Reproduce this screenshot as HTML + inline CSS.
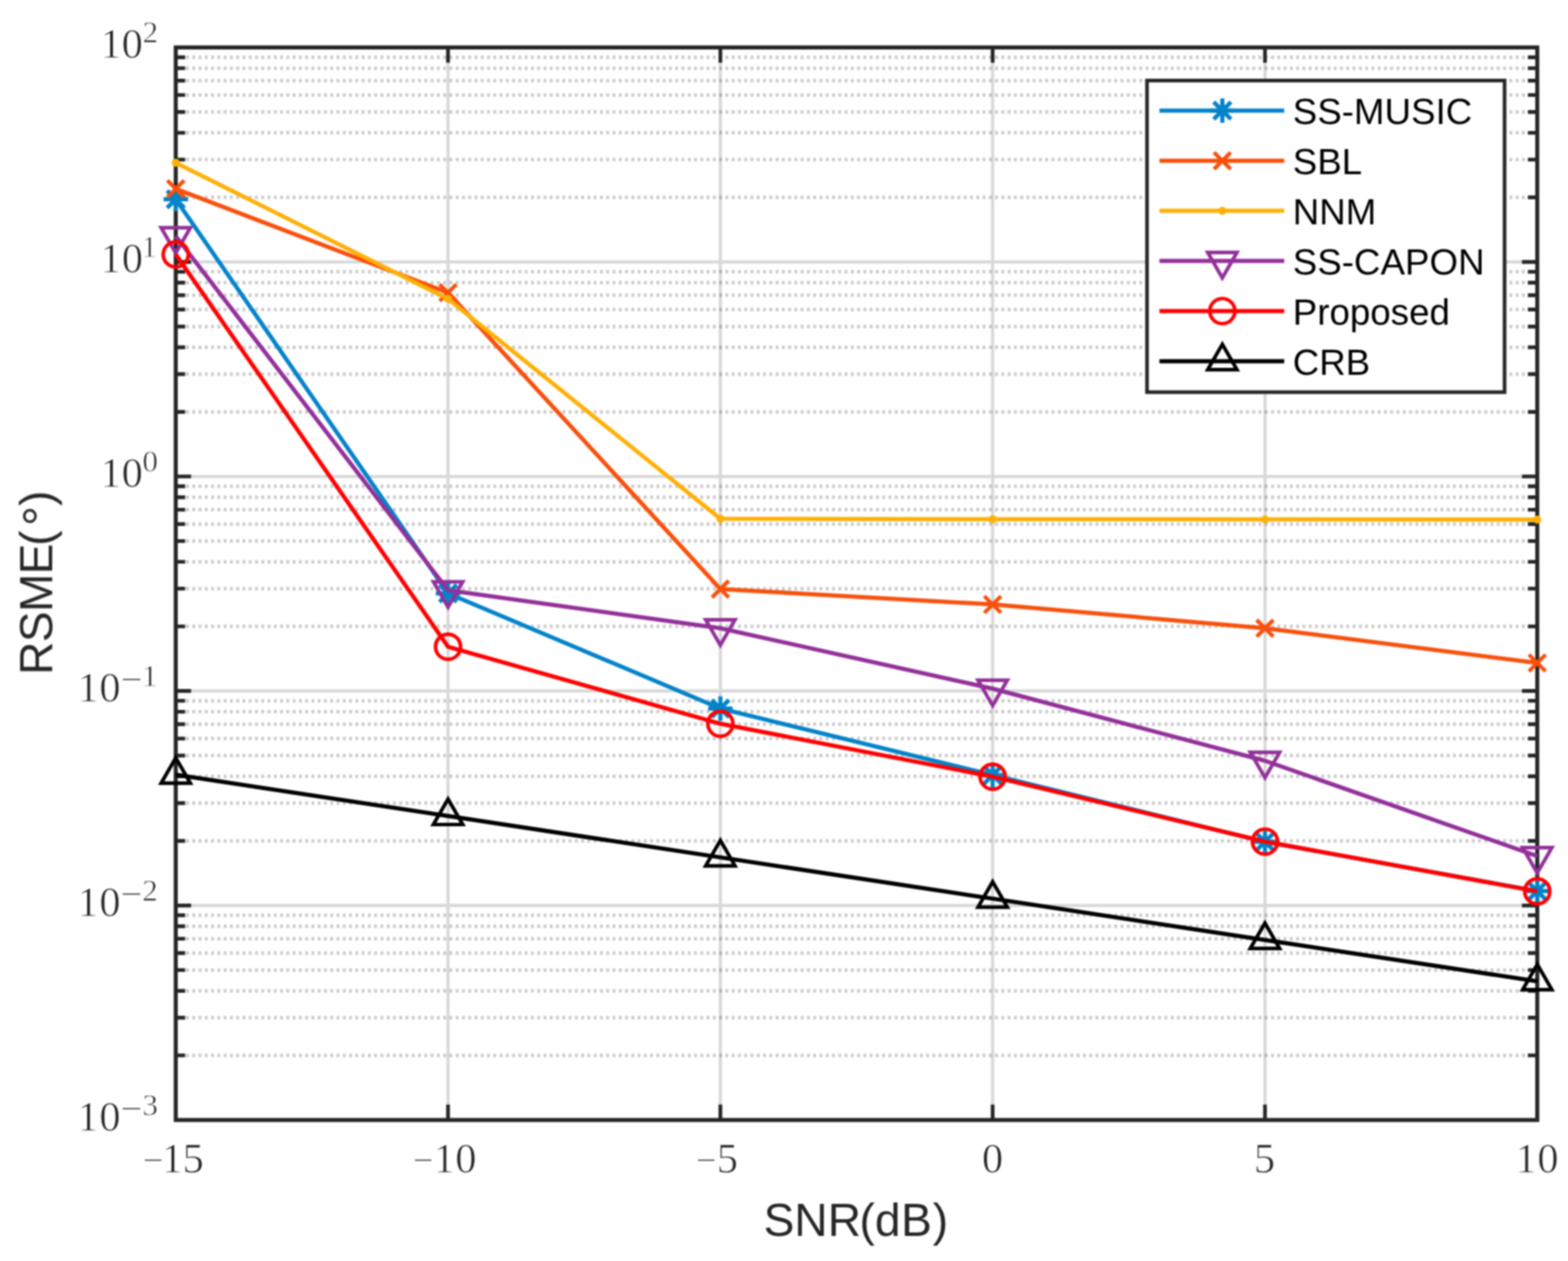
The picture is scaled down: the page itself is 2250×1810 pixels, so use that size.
<!DOCTYPE html>
<html><head><meta charset="utf-8"><title>RSME vs SNR</title><style>html,body{margin:0;padding:0;background:#fff;overflow:hidden}svg{display:block}</style></head>
<body>
<svg width="2250" height="1810" viewBox="0 0 2250 1810">
<defs><filter id="bl" x="0" y="0" width="2250" height="1810" filterUnits="userSpaceOnUse" color-interpolation-filters="sRGB"><feGaussianBlur stdDeviation="0.8"/></filter></defs>
<rect width="2250" height="1810" fill="#fff"/>
<g filter="url(#bl)">
<path d="M642.9 68.1V1607.6M1033.7 68.1V1607.6M1424.4 68.1V1607.6M1815.2 68.1V1607.6M252.2 1299.7H2205.9M252.2 991.8H2205.9M252.2 683.9H2205.9M252.2 376.0H2205.9" stroke="#262626" stroke-opacity="0.18" stroke-width="4.5" fill="none"/>
<path d="M252.2 1514.9H2205.9M252.2 1460.7H2205.9M252.2 1422.2H2205.9M252.2 1392.4H2205.9M252.2 1368.0H2205.9M252.2 1347.4H2205.9M252.2 1329.5H2205.9M252.2 1313.8H2205.9M252.2 1207.0H2205.9M252.2 1152.8H2205.9M252.2 1114.3H2205.9M252.2 1084.5H2205.9M252.2 1060.1H2205.9M252.2 1039.5H2205.9M252.2 1021.6H2205.9M252.2 1005.9H2205.9M252.2 899.1H2205.9M252.2 844.9H2205.9M252.2 806.4H2205.9M252.2 776.6H2205.9M252.2 752.2H2205.9M252.2 731.6H2205.9M252.2 713.7H2205.9M252.2 698.0H2205.9M252.2 591.2H2205.9M252.2 537.0H2205.9M252.2 498.5H2205.9M252.2 468.7H2205.9M252.2 444.3H2205.9M252.2 423.7H2205.9M252.2 405.8H2205.9M252.2 390.1H2205.9M252.2 283.3H2205.9M252.2 229.1H2205.9M252.2 190.6H2205.9M252.2 160.8H2205.9M252.2 136.4H2205.9M252.2 115.8H2205.9M252.2 97.9H2205.9M252.2 82.2H2205.9" stroke="#262626" stroke-opacity="0.24" stroke-width="5" stroke-dasharray="4.2 4.8" stroke-dashoffset="3.3" fill="none"/>
<path d="M642.9 1607.6V1585.6M642.9 68.1V90.1M1033.7 1607.6V1585.6M1033.7 68.1V90.1M1424.4 1607.6V1585.6M1424.4 68.1V90.1M1815.2 1607.6V1585.6M1815.2 68.1V90.1M252.2 1299.7H274.2M2205.9 1299.7H2183.9M252.2 991.8H274.2M2205.9 991.8H2183.9M252.2 683.9H274.2M2205.9 683.9H2183.9M252.2 376.0H274.2M2205.9 376.0H2183.9M252.2 1514.9H265.7M2205.9 1514.9H2192.4M252.2 1460.7H265.7M2205.9 1460.7H2192.4M252.2 1422.2H265.7M2205.9 1422.2H2192.4M252.2 1392.4H265.7M2205.9 1392.4H2192.4M252.2 1368.0H265.7M2205.9 1368.0H2192.4M252.2 1347.4H265.7M2205.9 1347.4H2192.4M252.2 1329.5H265.7M2205.9 1329.5H2192.4M252.2 1313.8H265.7M2205.9 1313.8H2192.4M252.2 1207.0H265.7M2205.9 1207.0H2192.4M252.2 1152.8H265.7M2205.9 1152.8H2192.4M252.2 1114.3H265.7M2205.9 1114.3H2192.4M252.2 1084.5H265.7M2205.9 1084.5H2192.4M252.2 1060.1H265.7M2205.9 1060.1H2192.4M252.2 1039.5H265.7M2205.9 1039.5H2192.4M252.2 1021.6H265.7M2205.9 1021.6H2192.4M252.2 1005.9H265.7M2205.9 1005.9H2192.4M252.2 899.1H265.7M2205.9 899.1H2192.4M252.2 844.9H265.7M2205.9 844.9H2192.4M252.2 806.4H265.7M2205.9 806.4H2192.4M252.2 776.6H265.7M2205.9 776.6H2192.4M252.2 752.2H265.7M2205.9 752.2H2192.4M252.2 731.6H265.7M2205.9 731.6H2192.4M252.2 713.7H265.7M2205.9 713.7H2192.4M252.2 698.0H265.7M2205.9 698.0H2192.4M252.2 591.2H265.7M2205.9 591.2H2192.4M252.2 537.0H265.7M2205.9 537.0H2192.4M252.2 498.5H265.7M2205.9 498.5H2192.4M252.2 468.7H265.7M2205.9 468.7H2192.4M252.2 444.3H265.7M2205.9 444.3H2192.4M252.2 423.7H265.7M2205.9 423.7H2192.4M252.2 405.8H265.7M2205.9 405.8H2192.4M252.2 390.1H265.7M2205.9 390.1H2192.4M252.2 283.3H265.7M2205.9 283.3H2192.4M252.2 229.1H265.7M2205.9 229.1H2192.4M252.2 190.6H265.7M2205.9 190.6H2192.4M252.2 160.8H265.7M2205.9 160.8H2192.4M252.2 136.4H265.7M2205.9 136.4H2192.4M252.2 115.8H265.7M2205.9 115.8H2192.4M252.2 97.9H265.7M2205.9 97.9H2192.4M252.2 82.2H265.7M2205.9 82.2H2192.4" stroke="#262626" stroke-width="5.4" fill="none"/>
<rect x="252.2" y="68.1" width="1953.7" height="1539.5" stroke="#262626" stroke-width="5.8" fill="none"/>
<polyline points="252.2,286.0 642.9,851.7 1033.7,1017.0 1424.4,1112.5 1815.2,1208.3 2205.9,1279.0" stroke="#0383CA" stroke-width="6.0" fill="none" stroke-linejoin="round"/>
<path d="M252.2 268.5V303.5M234.7 286.0H269.7M239.8 273.6L264.6 298.4M239.8 298.4L264.6 273.6" stroke="#0383CA" stroke-width="6" fill="none"/>
<path d="M642.9 834.2V869.2M625.4 851.7H660.4M630.6 839.3L655.3 864.1M630.6 864.1L655.3 839.3" stroke="#0383CA" stroke-width="6" fill="none"/>
<path d="M1033.7 999.5V1034.5M1016.2 1017.0H1051.2M1021.3 1004.6L1046.1 1029.4M1021.3 1029.4L1046.1 1004.6" stroke="#0383CA" stroke-width="6" fill="none"/>
<path d="M1424.4 1095.0V1130.0M1406.9 1112.5H1441.9M1412.0 1100.1L1436.8 1124.9M1412.0 1124.9L1436.8 1100.1" stroke="#0383CA" stroke-width="6" fill="none"/>
<path d="M1815.2 1190.8V1225.8M1797.7 1208.3H1832.7M1802.8 1195.9L1827.5 1220.7M1802.8 1220.7L1827.5 1195.9" stroke="#0383CA" stroke-width="6" fill="none"/>
<path d="M2205.9 1261.5V1296.5M2188.4 1279.0H2223.4M2193.5 1266.6L2218.3 1291.4M2193.5 1291.4L2218.3 1266.6" stroke="#0383CA" stroke-width="6" fill="none"/>
<polyline points="252.2,271.0 642.9,420.1 1033.7,845.5 1424.4,867.6 1815.2,901.7 2205.9,951.6" stroke="#F8500C" stroke-width="6.0" fill="none" stroke-linejoin="round"/>
<path d="M240.2 259.0L264.2 283.0M240.2 283.0L264.2 259.0" stroke="#F8500C" stroke-width="5.5" fill="none"/>
<path d="M630.9 408.1L654.9 432.1M630.9 432.1L654.9 408.1" stroke="#F8500C" stroke-width="5.5" fill="none"/>
<path d="M1021.7 833.5L1045.7 857.5M1021.7 857.5L1045.7 833.5" stroke="#F8500C" stroke-width="5.5" fill="none"/>
<path d="M1412.4 855.6L1436.4 879.6M1412.4 879.6L1436.4 855.6" stroke="#F8500C" stroke-width="5.5" fill="none"/>
<path d="M1803.2 889.7L1827.2 913.7M1803.2 913.7L1827.2 889.7" stroke="#F8500C" stroke-width="5.5" fill="none"/>
<path d="M2193.9 939.6L2217.9 963.6M2193.9 963.6L2217.9 939.6" stroke="#F8500C" stroke-width="5.5" fill="none"/>
<polyline points="252.2,233.6 642.9,429.0 1033.7,744.6 1424.4,745.2 1815.2,745.5 2205.9,745.8" stroke="#FEB006" stroke-width="6.0" fill="none" stroke-linejoin="round"/>
<circle cx="252.2" cy="233.6" r="5.8" fill="#FEB006"/>
<circle cx="642.9" cy="429.0" r="5.8" fill="#FEB006"/>
<circle cx="1033.7" cy="744.6" r="5.8" fill="#FEB006"/>
<circle cx="1424.4" cy="745.2" r="5.8" fill="#FEB006"/>
<circle cx="1815.2" cy="745.5" r="5.8" fill="#FEB006"/>
<circle cx="2205.9" cy="745.8" r="5.8" fill="#FEB006"/>
<polyline points="252.2,339.0 642.9,847.2 1033.7,901.8 1424.4,988.5 1815.2,1092.0 2205.9,1228.8" stroke="#93309A" stroke-width="6.0" fill="none" stroke-linejoin="round"/>
<polygon points="252.2,363.3 231.2,326.9 273.2,326.9" stroke="#93309A" stroke-width="5.2" fill="none"/>
<polygon points="642.9,871.5 621.9,835.1 664.0,835.1" stroke="#93309A" stroke-width="5.2" fill="none"/>
<polygon points="1033.7,926.1 1012.6,889.6 1054.7,889.6" stroke="#93309A" stroke-width="5.2" fill="none"/>
<polygon points="1424.4,1012.8 1403.4,976.4 1445.5,976.4" stroke="#93309A" stroke-width="5.2" fill="none"/>
<polygon points="1815.2,1116.3 1794.1,1079.8 1836.2,1079.8" stroke="#93309A" stroke-width="5.2" fill="none"/>
<polygon points="2205.9,1253.1 2184.9,1216.6 2226.9,1216.6" stroke="#93309A" stroke-width="5.2" fill="none"/>
<polyline points="252.2,365.2 642.9,928.3 1033.7,1038.8 1424.4,1114.8 1815.2,1208.0 2205.9,1279.4" stroke="#FF0000" stroke-width="6.0" fill="none" stroke-linejoin="round"/>
<circle cx="252.2" cy="365.2" r="18" stroke="#FF0000" stroke-width="5.2" fill="none"/>
<circle cx="642.9" cy="928.3" r="18" stroke="#FF0000" stroke-width="5.2" fill="none"/>
<circle cx="1033.7" cy="1038.8" r="18" stroke="#FF0000" stroke-width="5.2" fill="none"/>
<circle cx="1424.4" cy="1114.8" r="18" stroke="#FF0000" stroke-width="5.2" fill="none"/>
<circle cx="1815.2" cy="1208.0" r="18" stroke="#FF0000" stroke-width="5.2" fill="none"/>
<circle cx="2205.9" cy="1279.4" r="18" stroke="#FF0000" stroke-width="5.2" fill="none"/>
<polyline points="252.2,1112.0 642.9,1171.3 1033.7,1230.6 1424.4,1289.9 1815.2,1349.2 2205.9,1408.5" stroke="#000000" stroke-width="6.0" fill="none" stroke-linejoin="round"/>
<polygon points="252.2,1087.7 231.2,1124.2 273.2,1124.2" stroke="#000000" stroke-width="5.2" fill="none"/>
<polygon points="642.9,1147.0 621.9,1183.5 664.0,1183.5" stroke="#000000" stroke-width="5.2" fill="none"/>
<polygon points="1033.7,1206.3 1012.6,1242.8 1054.7,1242.8" stroke="#000000" stroke-width="5.2" fill="none"/>
<polygon points="1424.4,1265.6 1403.4,1302.1 1445.5,1302.1" stroke="#000000" stroke-width="5.2" fill="none"/>
<polygon points="1815.2,1324.9 1794.1,1361.4 1836.2,1361.4" stroke="#000000" stroke-width="5.2" fill="none"/>
<polygon points="2205.9,1384.2 2184.9,1420.7 2226.9,1420.7" stroke="#000000" stroke-width="5.2" fill="none"/>
<text font-family="Liberation Serif, serif" fill="#262626" stroke="#fff" stroke-width="0.9"><tspan x="205.08" y="1683.00" font-size="53">−</tspan><tspan x="232.05" y="1683.00" font-size="61">1</tspan><tspan x="262.07" y="1683.00" font-size="61">5</tspan></text>
<text font-family="Liberation Serif, serif" fill="#262626" stroke="#fff" stroke-width="0.9"><tspan x="592.58" y="1683.00" font-size="53">−</tspan><tspan x="622.30" y="1683.00" font-size="61">1</tspan><tspan x="653.20" y="1683.00" font-size="61">0</tspan></text>
<text font-family="Liberation Serif, serif" fill="#262626" stroke="#fff" stroke-width="0.9"><tspan x="998.63" y="1683.00" font-size="53">−</tspan><tspan x="1028.62" y="1683.00" font-size="61">5</tspan></text>
<text font-family="Liberation Serif, serif" fill="#262626" stroke="#fff" stroke-width="0.9"><tspan x="1409.10" y="1683.00" font-size="61">0</tspan></text>
<text font-family="Liberation Serif, serif" fill="#262626" stroke="#fff" stroke-width="0.9"><tspan x="1799.27" y="1683.00" font-size="61">5</tspan></text>
<text font-family="Liberation Serif, serif" fill="#262626" stroke="#fff" stroke-width="0.9"><tspan x="2174.50" y="1683.00" font-size="61">1</tspan><tspan x="2205.90" y="1683.00" font-size="61">0</tspan></text>
<text font-family="Liberation Serif, serif" fill="#262626" stroke="#fff" stroke-width="0.9"><tspan x="144.00" y="83.00" font-size="61">1</tspan><tspan x="174.55" y="83.00" font-size="61">0</tspan><tspan x="204.45" y="61.20" font-size="45">2</tspan></text>
<text font-family="Liberation Serif, serif" fill="#262626" stroke="#fff" stroke-width="0.9"><tspan x="143.75" y="390.90" font-size="61">1</tspan><tspan x="174.65" y="390.90" font-size="61">0</tspan><tspan x="203.12" y="369.10" font-size="45">1</tspan></text>
<text font-family="Liberation Serif, serif" fill="#262626" stroke="#fff" stroke-width="0.9"><tspan x="143.75" y="698.80" font-size="61">1</tspan><tspan x="174.55" y="698.80" font-size="61">0</tspan><tspan x="204.20" y="677.00" font-size="45">0</tspan></text>
<text font-family="Liberation Serif, serif" fill="#262626" stroke="#fff" stroke-width="0.9"><tspan x="111.20" y="1006.70" font-size="61">1</tspan><tspan x="142.40" y="1006.70" font-size="61">0</tspan><tspan x="172.88" y="994.00" font-size="56">−</tspan><tspan x="203.57" y="984.90" font-size="45">1</tspan></text>
<text font-family="Liberation Serif, serif" fill="#262626" stroke="#fff" stroke-width="0.9"><tspan x="111.00" y="1314.60" font-size="61">1</tspan><tspan x="142.40" y="1314.60" font-size="61">0</tspan><tspan x="172.63" y="1301.90" font-size="56">−</tspan><tspan x="204.10" y="1292.80" font-size="45">2</tspan></text>
<text font-family="Liberation Serif, serif" fill="#262626" stroke="#fff" stroke-width="0.9"><tspan x="111.00" y="1622.50" font-size="61">1</tspan><tspan x="142.40" y="1622.50" font-size="61">0</tspan><tspan x="172.83" y="1609.80" font-size="56">−</tspan><tspan x="204.15" y="1600.70" font-size="45">3</tspan></text>
<text x="1095.7 1139.85 1187.66 1233.2 1255.4 1293.1 1338.5" y="1773.8" font-family="Liberation Sans, Arial, sans-serif" fill="#262626" font-size="66.2">SNR(dB)</text>
<text transform="translate(74.9 967.7) rotate(-90)" x="-1 46 89.3 143.2 184.3" y="0" font-family="Liberation Sans, Arial, sans-serif" fill="#262626" font-size="66.2">RSME(<tspan x="212.5" dy="7.5" font-size="73">°</tspan><tspan x="241.5" dy="-7.5">)</tspan></text>
<rect x="1645.9" y="115.6" width="513.1" height="447.3" fill="#fff" stroke="#262626" stroke-width="5.2"/>
<path d="M1663.7 158.7H1842.8" stroke="#0383CA" stroke-width="6.0"/>
<path d="M1754.0 141.2V176.2M1736.5 158.7H1771.5M1741.6 146.3L1766.4 171.1M1741.6 171.1L1766.4 146.3" stroke="#0383CA" stroke-width="6" fill="none"/>
<text x="1855.0" y="178.2" font-family="Liberation Sans, Arial, sans-serif" fill="#000" font-size="52.7">SS-MUSIC</text>
<path d="M1663.7 230.7H1842.8" stroke="#F8500C" stroke-width="6.0"/>
<path d="M1742.0 218.7L1766.0 242.7M1742.0 242.7L1766.0 218.7" stroke="#F8500C" stroke-width="5.5" fill="none"/>
<text x="1855.0" y="250.2" font-family="Liberation Sans, Arial, sans-serif" fill="#000" font-size="52.7">SBL</text>
<path d="M1663.7 302.6H1842.8" stroke="#FEB006" stroke-width="6.0"/>
<circle cx="1754.0" cy="302.6" r="5.8" fill="#FEB006"/>
<text x="1855.0" y="322.1" font-family="Liberation Sans, Arial, sans-serif" fill="#000" font-size="52.7">NNM</text>
<path d="M1663.7 374.6H1842.8" stroke="#93309A" stroke-width="6.0"/>
<polygon points="1754.0,398.9 1733.0,362.4 1775.0,362.4" stroke="#93309A" stroke-width="5.2" fill="none"/>
<text x="1855.0" y="394.1" font-family="Liberation Sans, Arial, sans-serif" fill="#000" font-size="52.7">SS-CAPON</text>
<path d="M1663.7 446.5H1842.8" stroke="#FF0000" stroke-width="6.0"/>
<circle cx="1754.0" cy="446.5" r="18" stroke="#FF0000" stroke-width="5.2" fill="none"/>
<text x="1855.0" y="466.0" font-family="Liberation Sans, Arial, sans-serif" fill="#000" font-size="52.7">Proposed</text>
<path d="M1663.7 518.5H1842.8" stroke="#000000" stroke-width="6.0"/>
<polygon points="1754.0,494.2 1733.0,530.6 1775.0,530.6" stroke="#000000" stroke-width="5.2" fill="none"/>
<text x="1855.0" y="538.0" font-family="Liberation Sans, Arial, sans-serif" fill="#000" font-size="52.7">CRB</text>
</g>
</svg>
</body></html>
